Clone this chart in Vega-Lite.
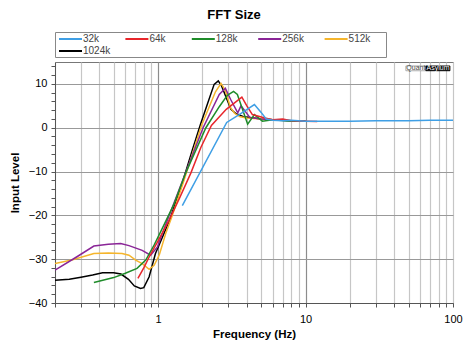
{
  "$schema": "https://vega.github.io/schema/vega-lite/v6.json",
  "autosize": {"type": "none"},
  "padding": {"left": 55, "top": 62, "right": 21, "bottom": 52},
  "width": 398,
  "height": 241,
  "background": "white",
  "title": {"text": "FFT Size", "font": "Liberation Sans", "fontSize": 13, "fontWeight": "bold", "color": "#000", "anchor": "middle", "frame": "group", "dx": -20, "offset": 10},
  "config": {
    "view": {"stroke": "#777", "strokeWidth": 1},
    "font": "Liberation Sans",
    "legend": {
      "orient": "none", "legendX": 0, "legendY": -30, "direction": "horizontal", "columns": 5, "gridAlign": "all",
      "symbolType": "M-0.6,0H4", "symbolSize": 100, "symbolStrokeWidth": 2,
      "labelFont": "Liberation Sans", "labelFontSize": 10, "labelColor": "#444", "labelOffset": 15, "labelLimit": 0,
      "columnPadding": 10.4, "rowPadding": 1, "padding": 1, "strokeColor": "#888", "fillColor": "white",
      "titleOrient": "right", "titlePadding": 12, "titleFontSize": 10, "titleColor": "#fff"
    }
  },
  "datasets": {
    "curves": [
      {"s": "1024k", "f": 0.2, "v": -34.8}, {"s": "1024k", "f": 0.25, "v": -34.6}, {"s": "1024k", "f": 0.3, "v": -34.1},
      {"s": "1024k", "f": 0.36, "v": -33.6}, {"s": "1024k", "f": 0.42, "v": -33.1}, {"s": "1024k", "f": 0.5, "v": -33.1},
      {"s": "1024k", "f": 0.56, "v": -33.4}, {"s": "1024k", "f": 0.63, "v": -34.6}, {"s": "1024k", "f": 0.69, "v": -36.1},
      {"s": "1024k", "f": 0.76, "v": -36.7}, {"s": "1024k", "f": 0.8, "v": -36.5}, {"s": "1024k", "f": 0.87, "v": -34},
      {"s": "1024k", "f": 0.96, "v": -28.7}, {"s": "1024k", "f": 1.07, "v": -25}, {"s": "1024k", "f": 1.2, "v": -21},
      {"s": "1024k", "f": 1.46, "v": -12.6}, {"s": "1024k", "f": 1.71, "v": -5}, {"s": "1024k", "f": 1.95, "v": 1},
      {"s": "1024k", "f": 2.4, "v": 9.9}, {"s": "1024k", "f": 2.56, "v": 10.7}, {"s": "1024k", "f": 2.7, "v": 9.5},
      {"s": "1024k", "f": 3.12, "v": 4.2}, {"s": "1024k", "f": 3.38, "v": 3.2}, {"s": "1024k", "f": 3.8, "v": 2.5},
      {"s": "1024k", "f": 4.5, "v": 2.2}, {"s": "1024k", "f": 5, "v": 2}, {"s": "1024k", "f": 6, "v": 1.8},
      {"s": "1024k", "f": 8, "v": 1.6}, {"s": "1024k", "f": 10, "v": 1.5},

      {"s": "512k", "f": 0.2, "v": -31}, {"s": "512k", "f": 0.26, "v": -30.2}, {"s": "512k", "f": 0.367, "v": -28.7},
      {"s": "512k", "f": 0.46, "v": -28.6}, {"s": "512k", "f": 0.57, "v": -28.7}, {"s": "512k", "f": 0.635, "v": -29.1},
      {"s": "512k", "f": 0.705, "v": -30.2}, {"s": "512k", "f": 0.78, "v": -31}, {"s": "512k", "f": 0.87, "v": -32.3},
      {"s": "512k", "f": 0.94, "v": -31.4}, {"s": "512k", "f": 1.02, "v": -29}, {"s": "512k", "f": 1.13, "v": -24},
      {"s": "512k", "f": 1.24, "v": -20.3}, {"s": "512k", "f": 1.5, "v": -12}, {"s": "512k", "f": 1.97, "v": 0.5},
      {"s": "512k", "f": 2.45, "v": 8.2}, {"s": "512k", "f": 2.67, "v": 10.1}, {"s": "512k", "f": 2.85, "v": 8.6},
      {"s": "512k", "f": 3.1, "v": 4.6}, {"s": "512k", "f": 3.3, "v": 3.3}, {"s": "512k", "f": 3.6, "v": 2.5},
      {"s": "512k", "f": 4, "v": 2.2}, {"s": "512k", "f": 5, "v": 2}, {"s": "512k", "f": 6, "v": 1.8},
      {"s": "512k", "f": 8, "v": 1.6}, {"s": "512k", "f": 10, "v": 1.5},

      {"s": "256k", "f": 0.2, "v": -32.5}, {"s": "256k", "f": 0.28, "v": -29.5}, {"s": "256k", "f": 0.367, "v": -27},
      {"s": "256k", "f": 0.46, "v": -26.6}, {"s": "256k", "f": 0.558, "v": -26.4}, {"s": "256k", "f": 0.635, "v": -26.9},
      {"s": "256k", "f": 0.78, "v": -28}, {"s": "256k", "f": 0.89, "v": -29.1}, {"s": "256k", "f": 0.99, "v": -27.2},
      {"s": "256k", "f": 1.07, "v": -24.1}, {"s": "256k", "f": 1.16, "v": -21}, {"s": "256k", "f": 1.5, "v": -11.2},
      {"s": "256k", "f": 2.02, "v": 0}, {"s": "256k", "f": 2.6, "v": 7.6}, {"s": "256k", "f": 2.86, "v": 9},
      {"s": "256k", "f": 3.1, "v": 6.5}, {"s": "256k", "f": 3.47, "v": 3.4}, {"s": "256k", "f": 3.65, "v": 5.0},
      {"s": "256k", "f": 4.2, "v": 2.3}, {"s": "256k", "f": 5, "v": 2}, {"s": "256k", "f": 6, "v": 1.8},
      {"s": "256k", "f": 8, "v": 1.6}, {"s": "256k", "f": 10, "v": 1.5},

      {"s": "128k", "f": 0.367, "v": -35.3}, {"s": "128k", "f": 0.5, "v": -34.2}, {"s": "128k", "f": 0.6, "v": -33.2},
      {"s": "128k", "f": 0.72, "v": -32.1}, {"s": "128k", "f": 0.825, "v": -30.2}, {"s": "128k", "f": 0.94, "v": -26.8},
      {"s": "128k", "f": 1.07, "v": -22.9}, {"s": "128k", "f": 1.28, "v": -17.5}, {"s": "128k", "f": 1.54, "v": -10.3},
      {"s": "128k", "f": 2.11, "v": 0}, {"s": "128k", "f": 2.6, "v": 4.8}, {"s": "128k", "f": 2.95, "v": 7.4},
      {"s": "128k", "f": 3.25, "v": 8.3}, {"s": "128k", "f": 3.45, "v": 7.6}, {"s": "128k", "f": 4.05, "v": 0.8},
      {"s": "128k", "f": 4.5, "v": 3.0}, {"s": "128k", "f": 5.1, "v": 1.5}, {"s": "128k", "f": 6, "v": 1.8},
      {"s": "128k", "f": 8, "v": 1.5}, {"s": "128k", "f": 10, "v": 1.5},

      {"s": "64k", "f": 0.73, "v": -34.4}, {"s": "64k", "f": 0.8, "v": -32}, {"s": "64k", "f": 0.87, "v": -29.5},
      {"s": "64k", "f": 1.0, "v": -25.8}, {"s": "64k", "f": 1.18, "v": -21.3}, {"s": "64k", "f": 1.4, "v": -16},
      {"s": "64k", "f": 1.67, "v": -10.3}, {"s": "64k", "f": 1.95, "v": -4.5}, {"s": "64k", "f": 2.3, "v": 0.5},
      {"s": "64k", "f": 2.9, "v": 4.2}, {"s": "64k", "f": 3.7, "v": 7.0}, {"s": "64k", "f": 4.0, "v": 5.0},
      {"s": "64k", "f": 4.36, "v": 3.0}, {"s": "64k", "f": 4.8, "v": 2.6}, {"s": "64k", "f": 5.3, "v": 2.2},
      {"s": "64k", "f": 6, "v": 1.8}, {"s": "64k", "f": 7, "v": 2.0}, {"s": "64k", "f": 8, "v": 1.6},
      {"s": "64k", "f": 10, "v": 1.5}, {"s": "64k", "f": 12, "v": 1.4},

      {"s": "32k", "f": 1.46, "v": -17.8}, {"s": "32k", "f": 2.92, "v": 1.2}, {"s": "32k", "f": 3.55, "v": 3.0},
      {"s": "32k", "f": 4.5, "v": 5.3}, {"s": "32k", "f": 5.0, "v": 3.5}, {"s": "32k", "f": 5.41, "v": 2.0},
      {"s": "32k", "f": 6, "v": 1.7}, {"s": "32k", "f": 7, "v": 1.6}, {"s": "32k", "f": 8, "v": 1.7},
      {"s": "32k", "f": 10, "v": 1.5}, {"s": "32k", "f": 15, "v": 1.5}, {"s": "32k", "f": 20, "v": 1.5},
      {"s": "32k", "f": 30, "v": 1.6}, {"s": "32k", "f": 50, "v": 1.6}, {"s": "32k", "f": 70, "v": 1.7},
      {"s": "32k", "f": 100, "v": 1.7}
    ],
    "logo": [
      {"t": "Quant", "a": 47.9, "b": 65.5, "lo": 13.0, "hi": 14.1, "c": 56.0, "m": 13.55},
      {"t": "Asylum", "a": 65.5, "b": 95.4, "lo": 13.0, "hi": 14.1, "c": 79.1, "m": 13.55}
    ]
  },
  "layer": [
    {
      "data": {"name": "curves"},
      "mark": {"type": "line", "strokeWidth": 1.5, "clip": true},
      "encoding": {
        "x": {
          "field": "f", "type": "quantitative",
          "scale": {"type": "log", "domain": [0.2, 100], "nice": false},
          "axis": {
            "values": [0.2, 0.3, 0.4, 0.5, 0.6, 0.7, 0.8, 0.9, 1, 2, 3, 4, 5, 6, 7, 8, 9, 10, 20, 30, 40, 50, 60, 70, 80, 90, 100],
            "tickCount": 100,
            "labelExpr": "datum.value === 1 ? '1' : datum.value === 10 ? '10' : datum.value === 100 ? '100' : ''",
            "grid": true,
            "gridColor": {"condition": {"test": "datum.value === 1 || datum.value === 10", "value": "#8c8c8c"}, "value": "#c6c6c6"},
            "gridWidth": 1.2,
            "domainColor": "#555", "tickColor": "#555", "tickSize": 4,
            "labelFont": "Liberation Sans", "labelFontSize": 11, "labelColor": "#000", "labelPadding": 6,
            "labelOverlap": false, "labelFlush": false,
            "title": "Frequency (Hz)", "titleFont": "Liberation Sans", "titleFontSize": 11.5, "titleFontWeight": "bold",
            "titleColor": "#000", "titlePadding": 4
          }
        },
        "y": {
          "field": "v", "type": "quantitative",
          "scale": {"domain": [-40, 15], "nice": false},
          "axis": {
            "values": [-40, -38, -36, -34, -32, -30, -28, -26, -24, -22, -20, -18, -16, -14, -12, -10, -8, -6, -4, -2, 0, 2, 4, 6, 8, 10, 12, 14],
            "tickCount": 100,
            "labelExpr": "indexof([-40, -30, -20, -10, 0, 10], datum.value) >= 0 ? format(datum.value, 'd') : ''",
            "grid": true,
            "gridOpacity": {"condition": {"test": "indexof([-40, -30, -20, -10, 0, 10], datum.value) >= 0", "value": 1}, "value": 0},
            "gridColor": "#999", "gridWidth": 1.2,
            "domainColor": "#555", "tickColor": "#555", "tickSize": 4,
            "labelFont": "Liberation Sans", "labelFontSize": 11, "labelColor": "#000", "labelPadding": 4,
            "labelOverlap": false,
            "title": "Input Level", "titleFont": "Liberation Sans", "titleFontSize": 11.5, "titleFontWeight": "bold",
            "titleColor": "#000", "titlePadding": 8
          }
        },
        "color": {
          "field": "s", "type": "nominal",
          "scale": {"domain": ["32k", "64k", "128k", "256k", "512k", "1024k"], "range": ["#3f9fe5", "#e8262b", "#1f8c2a", "#8a2597", "#f5b52c", "#000000"]},
          "legend": {"title": "."}
        }
      }
    },
    {
      "data": {"name": "logo"},
      "transform": [{"filter": "datum.t === 'Quant'"}],
      "mark": {"type": "rect", "fill": "#ffffff", "stroke": "#999", "strokeWidth": 0.8},
      "encoding": {
        "x": {"field": "a", "type": "quantitative"},
        "x2": {"field": "b"},
        "y": {"field": "lo", "type": "quantitative"},
        "y2": {"field": "hi"}
      }
    },
    {
      "data": {"name": "logo"},
      "transform": [{"filter": "datum.t === 'Asylum'"}],
      "mark": {"type": "rect", "fill": "#000000", "stroke": "#000000", "strokeWidth": 0.8},
      "encoding": {
        "x": {"field": "a", "type": "quantitative"},
        "x2": {"field": "b"},
        "y": {"field": "lo", "type": "quantitative"},
        "y2": {"field": "hi"}
      }
    },
    {
      "data": {"name": "logo"},
      "transform": [{"filter": "datum.t === 'Quant'"}],
      "mark": {"type": "text", "font": "Liberation Sans", "fontSize": 7, "baseline": "middle", "align": "center", "color": "#444"},
      "encoding": {
        "x": {"field": "c", "type": "quantitative"},
        "y": {"field": "m", "type": "quantitative"},
        "text": {"field": "t"}
      }
    },
    {
      "data": {"name": "logo"},
      "transform": [{"filter": "datum.t === 'Asylum'"}],
      "mark": {"type": "text", "font": "Liberation Sans", "fontSize": 7, "baseline": "middle", "align": "center", "color": "#ffffff"},
      "encoding": {
        "x": {"field": "c", "type": "quantitative"},
        "y": {"field": "m", "type": "quantitative"},
        "text": {"field": "t"}
      }
    }
  ]
}
